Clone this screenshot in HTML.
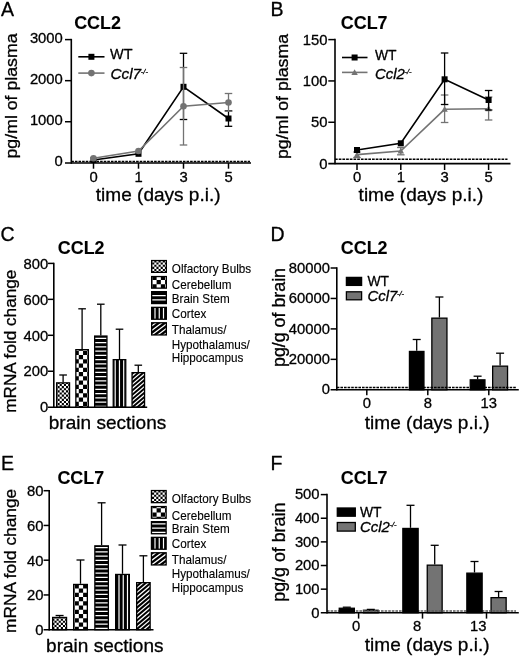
<!DOCTYPE html>
<html lang="en"><head><meta charset="utf-8"><title>Figure</title>
<style>
html,body{margin:0;padding:0;background:#fff;}
svg{display:block;}
svg text{font-family:"Liberation Sans", sans-serif;stroke:#000;stroke-width:0.3px;stroke-linejoin:round;}
svg text[font-weight=bold]{stroke-width:0.1px;}
</style></head><body>
<svg width="520" height="656" viewBox="0 0 520 656">
<rect width="520" height="656" fill="#fff"/>
<text x="1.0" y="15.8" font-size="19.5" text-anchor="start">A</text>
<text x="97.5" y="29.0" font-size="17.9" text-anchor="middle" font-weight="bold">CCL2</text>
<text transform="translate(17.2,96.0) rotate(-90)" font-size="16.5" text-anchor="middle" textLength="125" lengthAdjust="spacingAndGlyphs">pg/ml of plasma</text>
<line x1="71.3" y1="38.85" x2="71.3" y2="163.75" stroke="#000" stroke-width="1.6"/>
<line x1="65.0" y1="163.0" x2="251" y2="163.0" stroke="#000" stroke-width="1.6"/>
<line x1="71.3" y1="161.5" x2="250" y2="161.5" stroke="#000" stroke-width="1.6" stroke-dasharray="2.6 1.0"/>
<text x="62.8" y="165.70000000000002" font-size="14.8" text-anchor="end">0</text>
<line x1="65.0" y1="121.73333333333335" x2="71.3" y2="121.73333333333335" stroke="#000" stroke-width="1.5"/>
<text x="62.8" y="124.63333333333335" font-size="14.8" text-anchor="end">1000</text>
<line x1="65.0" y1="80.66666666666667" x2="71.3" y2="80.66666666666667" stroke="#000" stroke-width="1.5"/>
<text x="62.8" y="83.56666666666668" font-size="14.8" text-anchor="end">2000</text>
<line x1="65.0" y1="39.599999999999994" x2="71.3" y2="39.599999999999994" stroke="#000" stroke-width="1.5"/>
<text x="62.8" y="42.49999999999999" font-size="14.8" text-anchor="end">3000</text>
<line x1="93.5" y1="163.0" x2="93.5" y2="168.7" stroke="#000" stroke-width="1.5"/>
<text x="93.5" y="182.0" font-size="14.8" text-anchor="middle">0</text>
<line x1="138.5" y1="163.0" x2="138.5" y2="168.7" stroke="#000" stroke-width="1.5"/>
<text x="138.5" y="182.0" font-size="14.8" text-anchor="middle">1</text>
<line x1="183.5" y1="163.0" x2="183.5" y2="168.7" stroke="#000" stroke-width="1.5"/>
<text x="183.5" y="182.0" font-size="14.8" text-anchor="middle">3</text>
<line x1="228.5" y1="163.0" x2="228.5" y2="168.7" stroke="#000" stroke-width="1.5"/>
<text x="228.5" y="182.0" font-size="14.8" text-anchor="middle">5</text>
<text x="158.2" y="201.2" font-size="19" text-anchor="middle" textLength="124.8" lengthAdjust="spacingAndGlyphs">time (days p.i.)</text>
<line x1="183.5" y1="53.3" x2="183.5" y2="119.5" stroke="#000" stroke-width="1.3"/>
<line x1="179.75" y1="53.3" x2="187.25" y2="53.3" stroke="#000" stroke-width="1.3"/>
<line x1="179.75" y1="119.5" x2="187.25" y2="119.5" stroke="#000" stroke-width="1.3"/>
<line x1="228.5" y1="110.8" x2="228.5" y2="126.3" stroke="#000" stroke-width="1.3"/>
<line x1="224.75" y1="110.8" x2="232.25" y2="110.8" stroke="#000" stroke-width="1.3"/>
<line x1="224.75" y1="126.3" x2="232.25" y2="126.3" stroke="#000" stroke-width="1.3"/>
<polyline fill="none" stroke="#000" stroke-width="1.6" points="93.5,160.0 138.5,153.8 183.5,86.8 228.5,118.5"/>
<rect x="90.50" y="157.00" width="6.00" height="6.00" fill="#000"/>
<rect x="135.50" y="150.80" width="6.00" height="6.00" fill="#000"/>
<rect x="180.50" y="83.80" width="6.00" height="6.00" fill="#000"/>
<rect x="225.50" y="115.50" width="6.00" height="6.00" fill="#000"/>
<line x1="183.5" y1="67.5" x2="183.5" y2="145.0" stroke="#737373" stroke-width="1.3"/>
<line x1="179.75" y1="67.5" x2="187.25" y2="67.5" stroke="#737373" stroke-width="1.3"/>
<line x1="179.75" y1="145.0" x2="187.25" y2="145.0" stroke="#737373" stroke-width="1.3"/>
<line x1="228.5" y1="93.5" x2="228.5" y2="111.2" stroke="#737373" stroke-width="1.3"/>
<line x1="224.75" y1="93.5" x2="232.25" y2="93.5" stroke="#737373" stroke-width="1.3"/>
<line x1="224.75" y1="111.2" x2="232.25" y2="111.2" stroke="#737373" stroke-width="1.3"/>
<polyline fill="none" stroke="#737373" stroke-width="1.6" points="93.5,158.2 138.5,151.0 183.5,106.3 228.5,102.5"/>
<circle cx="93.5" cy="158.2" r="3.3" fill="#737373"/>
<circle cx="138.5" cy="151.0" r="3.3" fill="#737373"/>
<circle cx="183.5" cy="106.3" r="3.3" fill="#737373"/>
<circle cx="228.5" cy="102.5" r="3.3" fill="#737373"/>
<line x1="78.3" y1="56.8" x2="104.5" y2="56.8" stroke="#000" stroke-width="1.6"/>
<rect x="88.40" y="53.80" width="6.00" height="6.00" fill="#000"/>
<text x="110" y="58.9" font-size="15" text-anchor="start" textLength="22.5" lengthAdjust="spacingAndGlyphs">WT</text>
<line x1="78.3" y1="73.1" x2="104.5" y2="73.1" stroke="#737373" stroke-width="1.6"/>
<circle cx="91.4" cy="73.1" r="3.3" fill="#737373"/>
<text x="110.5" y="78.5" font-size="15.3" font-style="italic">Ccl7<tspan font-size="7.6" dx="-0.3" dy="-5.0">-/-</tspan></text>
<text x="270.5" y="15.8" font-size="19.5" text-anchor="start">B</text>
<text x="364.2" y="29.0" font-size="17.9" text-anchor="middle" font-weight="bold">CCL7</text>
<text transform="translate(287.5,96.5) rotate(-90)" font-size="16.5" text-anchor="middle" textLength="125" lengthAdjust="spacingAndGlyphs">pg/ml of plasma</text>
<line x1="335.0" y1="38.85" x2="335.0" y2="164.35" stroke="#000" stroke-width="1.6"/>
<line x1="328.3" y1="163.6" x2="510.5" y2="163.6" stroke="#000" stroke-width="1.6"/>
<line x1="335.0" y1="159.2" x2="507.5" y2="159.2" stroke="#000" stroke-width="1.5" stroke-dasharray="2.7 1.0"/>
<text x="327.5" y="168.79999999999998" font-size="14.8" text-anchor="end">0</text>
<line x1="328.3" y1="122.26666666666665" x2="335.0" y2="122.26666666666665" stroke="#000" stroke-width="1.5"/>
<text x="327.5" y="127.46666666666665" font-size="14.8" text-anchor="end">50</text>
<line x1="328.3" y1="80.93333333333332" x2="335.0" y2="80.93333333333332" stroke="#000" stroke-width="1.5"/>
<text x="327.5" y="86.13333333333333" font-size="14.8" text-anchor="end">100</text>
<line x1="328.3" y1="39.599999999999994" x2="335.0" y2="39.599999999999994" stroke="#000" stroke-width="1.5"/>
<text x="327.5" y="44.8" font-size="14.8" text-anchor="end">150</text>
<line x1="357.0" y1="163.6" x2="357.0" y2="170.0" stroke="#000" stroke-width="1.5"/>
<text x="357.0" y="182.0" font-size="14.8" text-anchor="middle">0</text>
<line x1="400.8" y1="163.6" x2="400.8" y2="170.0" stroke="#000" stroke-width="1.5"/>
<text x="400.8" y="182.0" font-size="14.8" text-anchor="middle">1</text>
<line x1="444.6" y1="163.6" x2="444.6" y2="170.0" stroke="#000" stroke-width="1.5"/>
<text x="444.6" y="182.0" font-size="14.8" text-anchor="middle">3</text>
<line x1="488.6" y1="163.6" x2="488.6" y2="170.0" stroke="#000" stroke-width="1.5"/>
<text x="488.6" y="182.0" font-size="14.8" text-anchor="middle">5</text>
<text x="421.0" y="201.2" font-size="19" text-anchor="middle" textLength="124.8" lengthAdjust="spacingAndGlyphs">time (days p.i.)</text>
<line x1="357.0" y1="152.0" x2="357.0" y2="157.5" stroke="#737373" stroke-width="1.3"/>
<line x1="353.25" y1="152.0" x2="360.75" y2="152.0" stroke="#737373" stroke-width="1.3"/>
<line x1="353.25" y1="157.5" x2="360.75" y2="157.5" stroke="#737373" stroke-width="1.3"/>
<line x1="400.8" y1="147.5" x2="400.8" y2="154.8" stroke="#737373" stroke-width="1.3"/>
<line x1="397.05" y1="147.5" x2="404.55" y2="147.5" stroke="#737373" stroke-width="1.3"/>
<line x1="397.05" y1="154.8" x2="404.55" y2="154.8" stroke="#737373" stroke-width="1.3"/>
<line x1="444.6" y1="95.0" x2="444.6" y2="122.5" stroke="#737373" stroke-width="1.3"/>
<line x1="440.85" y1="95.0" x2="448.35" y2="95.0" stroke="#737373" stroke-width="1.3"/>
<line x1="440.85" y1="122.5" x2="448.35" y2="122.5" stroke="#737373" stroke-width="1.3"/>
<line x1="488.6" y1="97.0" x2="488.6" y2="120.0" stroke="#737373" stroke-width="1.3"/>
<line x1="484.85" y1="97.0" x2="492.35" y2="97.0" stroke="#737373" stroke-width="1.3"/>
<line x1="484.85" y1="120.0" x2="492.35" y2="120.0" stroke="#737373" stroke-width="1.3"/>
<polyline fill="none" stroke="#737373" stroke-width="1.6" points="357.0,154.6 400.8,151.0 444.6,109.3 488.6,108.8"/>
<polygon points="357.0,151.4 360.2,157.16 353.8,157.16" fill="#737373"/>
<polygon points="400.8,147.8 404.0,153.56 397.6,153.56" fill="#737373"/>
<polygon points="444.6,106.1 447.8,111.86 441.40000000000003,111.86" fill="#737373"/>
<polygon points="488.6,105.6 491.8,111.36 485.40000000000003,111.36" fill="#737373"/>
<line x1="444.6" y1="53.0" x2="444.6" y2="104.5" stroke="#000" stroke-width="1.3"/>
<line x1="440.85" y1="53.0" x2="448.35" y2="53.0" stroke="#000" stroke-width="1.3"/>
<line x1="440.85" y1="104.5" x2="448.35" y2="104.5" stroke="#000" stroke-width="1.3"/>
<line x1="488.6" y1="90.5" x2="488.6" y2="110.0" stroke="#000" stroke-width="1.3"/>
<line x1="484.85" y1="90.5" x2="492.35" y2="90.5" stroke="#000" stroke-width="1.3"/>
<line x1="484.85" y1="110.0" x2="492.35" y2="110.0" stroke="#000" stroke-width="1.3"/>
<polyline fill="none" stroke="#000" stroke-width="1.6" points="357.0,150.0 400.8,143.3 444.6,79.3 488.6,100.0"/>
<rect x="354.00" y="147.00" width="6.00" height="6.00" fill="#000"/>
<rect x="397.80" y="140.30" width="6.00" height="6.00" fill="#000"/>
<rect x="441.60" y="76.30" width="6.00" height="6.00" fill="#000"/>
<rect x="485.60" y="97.00" width="6.00" height="6.00" fill="#000"/>
<line x1="342" y1="57.5" x2="367.5" y2="57.5" stroke="#000" stroke-width="1.6"/>
<rect x="351.60" y="54.50" width="6.00" height="6.00" fill="#000"/>
<text x="375" y="59.6" font-size="14.6" text-anchor="start" textLength="21.6" lengthAdjust="spacingAndGlyphs">WT</text>
<line x1="342" y1="72.4" x2="367.5" y2="72.4" stroke="#737373" stroke-width="1.6"/>
<polygon points="354.6,69.2 357.8,74.96000000000001 351.40000000000003,74.96000000000001" fill="#737373"/>
<text x="375" y="78.5" font-size="14.9" font-style="italic">Ccl2<tspan font-size="7.6" dx="-0.3" dy="-5.0">-/-</tspan></text>
<text x="0.5" y="240.5" font-size="19.5" text-anchor="start">C</text>
<text x="81.2" y="254.2" font-size="17.9" text-anchor="middle" font-weight="bold">CCL2</text>
<text transform="translate(15.8,341.2) rotate(-90)" font-size="16.5" text-anchor="middle" textLength="143" lengthAdjust="spacingAndGlyphs">mRNA fold change</text>
<text x="48.3" y="412.4" font-size="14.8" text-anchor="end">0</text>
<line x1="48.0" y1="371.25" x2="53.8" y2="371.25" stroke="#000" stroke-width="1.5"/>
<text x="48.3" y="376.45" font-size="14.8" text-anchor="end">200</text>
<line x1="48.0" y1="335.29999999999995" x2="53.8" y2="335.29999999999995" stroke="#000" stroke-width="1.5"/>
<text x="48.3" y="340.49999999999994" font-size="14.8" text-anchor="end">400</text>
<line x1="48.0" y1="299.35" x2="53.8" y2="299.35" stroke="#000" stroke-width="1.5"/>
<text x="48.3" y="304.55" font-size="14.8" text-anchor="end">600</text>
<line x1="48.0" y1="263.4" x2="53.8" y2="263.4" stroke="#000" stroke-width="1.5"/>
<text x="48.3" y="268.59999999999997" font-size="14.8" text-anchor="end">800</text>
<line x1="63.1" y1="375.0" x2="63.1" y2="382.2" stroke="#000" stroke-width="1.3"/>
<line x1="59.300000000000004" y1="375.0" x2="66.9" y2="375.0" stroke="#000" stroke-width="1.3"/>
<clipPath id="pc1"><rect x="56.65" y="382.85" width="12.90" height="24.40"/></clipPath>
<g clip-path="url(#pc1)"><rect x="56.65" y="382.85" width="12.90" height="24.40" fill="#000"/><path d="M53.29 379.69h2.125v2.125h-2.125zM53.29 383.94h2.125v2.125h-2.125zM53.29 388.19h2.125v2.125h-2.125zM53.29 392.44h2.125v2.125h-2.125zM53.29 396.69h2.125v2.125h-2.125zM53.29 400.94h2.125v2.125h-2.125zM53.29 405.19h2.125v2.125h-2.125zM53.29 409.44h2.125v2.125h-2.125zM55.41 381.81h2.125v2.125h-2.125zM55.41 386.06h2.125v2.125h-2.125zM55.41 390.31h2.125v2.125h-2.125zM55.41 394.56h2.125v2.125h-2.125zM55.41 398.81h2.125v2.125h-2.125zM55.41 403.06h2.125v2.125h-2.125zM55.41 407.31h2.125v2.125h-2.125zM57.54 379.69h2.125v2.125h-2.125zM57.54 383.94h2.125v2.125h-2.125zM57.54 388.19h2.125v2.125h-2.125zM57.54 392.44h2.125v2.125h-2.125zM57.54 396.69h2.125v2.125h-2.125zM57.54 400.94h2.125v2.125h-2.125zM57.54 405.19h2.125v2.125h-2.125zM57.54 409.44h2.125v2.125h-2.125zM59.66 381.81h2.125v2.125h-2.125zM59.66 386.06h2.125v2.125h-2.125zM59.66 390.31h2.125v2.125h-2.125zM59.66 394.56h2.125v2.125h-2.125zM59.66 398.81h2.125v2.125h-2.125zM59.66 403.06h2.125v2.125h-2.125zM59.66 407.31h2.125v2.125h-2.125zM61.79 379.69h2.125v2.125h-2.125zM61.79 383.94h2.125v2.125h-2.125zM61.79 388.19h2.125v2.125h-2.125zM61.79 392.44h2.125v2.125h-2.125zM61.79 396.69h2.125v2.125h-2.125zM61.79 400.94h2.125v2.125h-2.125zM61.79 405.19h2.125v2.125h-2.125zM61.79 409.44h2.125v2.125h-2.125zM63.91 381.81h2.125v2.125h-2.125zM63.91 386.06h2.125v2.125h-2.125zM63.91 390.31h2.125v2.125h-2.125zM63.91 394.56h2.125v2.125h-2.125zM63.91 398.81h2.125v2.125h-2.125zM63.91 403.06h2.125v2.125h-2.125zM63.91 407.31h2.125v2.125h-2.125zM66.04 379.69h2.125v2.125h-2.125zM66.04 383.94h2.125v2.125h-2.125zM66.04 388.19h2.125v2.125h-2.125zM66.04 392.44h2.125v2.125h-2.125zM66.04 396.69h2.125v2.125h-2.125zM66.04 400.94h2.125v2.125h-2.125zM66.04 405.19h2.125v2.125h-2.125zM66.04 409.44h2.125v2.125h-2.125zM68.16 381.81h2.125v2.125h-2.125zM68.16 386.06h2.125v2.125h-2.125zM68.16 390.31h2.125v2.125h-2.125zM68.16 394.56h2.125v2.125h-2.125zM68.16 398.81h2.125v2.125h-2.125zM68.16 403.06h2.125v2.125h-2.125zM68.16 407.31h2.125v2.125h-2.125zM70.29 379.69h2.125v2.125h-2.125zM70.29 383.94h2.125v2.125h-2.125zM70.29 388.19h2.125v2.125h-2.125zM70.29 392.44h2.125v2.125h-2.125zM70.29 396.69h2.125v2.125h-2.125zM70.29 400.94h2.125v2.125h-2.125zM70.29 405.19h2.125v2.125h-2.125zM70.29 409.44h2.125v2.125h-2.125zM72.41 381.81h2.125v2.125h-2.125zM72.41 386.06h2.125v2.125h-2.125zM72.41 390.31h2.125v2.125h-2.125zM72.41 394.56h2.125v2.125h-2.125zM72.41 398.81h2.125v2.125h-2.125zM72.41 403.06h2.125v2.125h-2.125zM72.41 407.31h2.125v2.125h-2.125z" fill="#fff"/></g>
<rect x="56.65" y="382.85" width="12.90" height="24.40" fill="none" stroke="#000" stroke-width="1.3"/>
<line x1="82.1" y1="308.8" x2="82.1" y2="349.0" stroke="#000" stroke-width="1.3"/>
<line x1="78.3" y1="308.8" x2="85.89999999999999" y2="308.8" stroke="#000" stroke-width="1.3"/>
<clipPath id="pc2"><rect x="75.85" y="349.65" width="12.50" height="57.60"/></clipPath>
<g clip-path="url(#pc2)"><rect x="75.85" y="349.65" width="12.50" height="57.60" fill="#000"/><path d="M70.30 342.30h4.250v4.250h-4.250zM70.30 350.80h4.250v4.250h-4.250zM70.30 359.30h4.250v4.250h-4.250zM70.30 367.80h4.250v4.250h-4.250zM70.30 376.30h4.250v4.250h-4.250zM70.30 384.80h4.250v4.250h-4.250zM70.30 393.30h4.250v4.250h-4.250zM70.30 401.80h4.250v4.250h-4.250zM70.30 410.30h4.250v4.250h-4.250zM74.55 346.55h4.250v4.250h-4.250zM74.55 355.05h4.250v4.250h-4.250zM74.55 363.55h4.250v4.250h-4.250zM74.55 372.05h4.250v4.250h-4.250zM74.55 380.55h4.250v4.250h-4.250zM74.55 389.05h4.250v4.250h-4.250zM74.55 397.55h4.250v4.250h-4.250zM74.55 406.05h4.250v4.250h-4.250zM74.55 414.55h4.250v4.250h-4.250zM78.80 342.30h4.250v4.250h-4.250zM78.80 350.80h4.250v4.250h-4.250zM78.80 359.30h4.250v4.250h-4.250zM78.80 367.80h4.250v4.250h-4.250zM78.80 376.30h4.250v4.250h-4.250zM78.80 384.80h4.250v4.250h-4.250zM78.80 393.30h4.250v4.250h-4.250zM78.80 401.80h4.250v4.250h-4.250zM78.80 410.30h4.250v4.250h-4.250zM83.05 346.55h4.250v4.250h-4.250zM83.05 355.05h4.250v4.250h-4.250zM83.05 363.55h4.250v4.250h-4.250zM83.05 372.05h4.250v4.250h-4.250zM83.05 380.55h4.250v4.250h-4.250zM83.05 389.05h4.250v4.250h-4.250zM83.05 397.55h4.250v4.250h-4.250zM83.05 406.05h4.250v4.250h-4.250zM83.05 414.55h4.250v4.250h-4.250zM87.30 342.30h4.250v4.250h-4.250zM87.30 350.80h4.250v4.250h-4.250zM87.30 359.30h4.250v4.250h-4.250zM87.30 367.80h4.250v4.250h-4.250zM87.30 376.30h4.250v4.250h-4.250zM87.30 384.80h4.250v4.250h-4.250zM87.30 393.30h4.250v4.250h-4.250zM87.30 401.80h4.250v4.250h-4.250zM87.30 410.30h4.250v4.250h-4.250zM91.55 346.55h4.250v4.250h-4.250zM91.55 355.05h4.250v4.250h-4.250zM91.55 363.55h4.250v4.250h-4.250zM91.55 372.05h4.250v4.250h-4.250zM91.55 380.55h4.250v4.250h-4.250zM91.55 389.05h4.250v4.250h-4.250zM91.55 397.55h4.250v4.250h-4.250zM91.55 406.05h4.250v4.250h-4.250zM91.55 414.55h4.250v4.250h-4.250zM95.80 342.30h4.250v4.250h-4.250zM95.80 350.80h4.250v4.250h-4.250zM95.80 359.30h4.250v4.250h-4.250zM95.80 367.80h4.250v4.250h-4.250zM95.80 376.30h4.250v4.250h-4.250zM95.80 384.80h4.250v4.250h-4.250zM95.80 393.30h4.250v4.250h-4.250zM95.80 401.80h4.250v4.250h-4.250zM95.80 410.30h4.250v4.250h-4.250z" fill="#fff"/></g>
<rect x="75.85" y="349.65" width="12.50" height="57.60" fill="none" stroke="#000" stroke-width="1.3"/>
<line x1="100.8" y1="304.2" x2="100.8" y2="335.4" stroke="#000" stroke-width="1.3"/>
<line x1="97.0" y1="304.2" x2="104.6" y2="304.2" stroke="#000" stroke-width="1.3"/>
<clipPath id="pc3"><rect x="94.65" y="336.05" width="12.30" height="71.20"/></clipPath>
<g clip-path="url(#pc3)"><rect x="94.65" y="336.05" width="12.30" height="71.20" fill="#000"/><path d="M93.65 334.05H107.95M93.65 338.30H107.95M93.65 342.55H107.95M93.65 346.80H107.95M93.65 351.05H107.95M93.65 355.30H107.95M93.65 359.55H107.95M93.65 363.80H107.95M93.65 368.05H107.95M93.65 372.30H107.95M93.65 376.55H107.95M93.65 380.80H107.95M93.65 385.05H107.95M93.65 389.30H107.95M93.65 393.55H107.95M93.65 397.80H107.95M93.65 402.05H107.95M93.65 406.30H107.95" stroke="#fff" stroke-width="1.25" fill="none"/></g>
<rect x="94.65" y="336.05" width="12.30" height="71.20" fill="none" stroke="#000" stroke-width="1.3"/>
<line x1="119.5" y1="329.2" x2="119.5" y2="359.0" stroke="#000" stroke-width="1.3"/>
<line x1="115.7" y1="329.2" x2="123.3" y2="329.2" stroke="#000" stroke-width="1.3"/>
<clipPath id="pc4"><rect x="113.25" y="359.65" width="12.50" height="47.60"/></clipPath>
<g clip-path="url(#pc4)"><rect x="113.25" y="359.65" width="12.50" height="47.60" fill="#000"/><path d="M110.95 358.65V408.25M115.20 358.65V408.25M119.45 358.65V408.25M123.70 358.65V408.25" stroke="#fff" stroke-width="1.2" fill="none"/></g>
<rect x="113.25" y="359.65" width="12.50" height="47.60" fill="none" stroke="#000" stroke-width="1.3"/>
<line x1="138.3" y1="365.2" x2="138.3" y2="372.0" stroke="#000" stroke-width="1.3"/>
<line x1="134.5" y1="365.2" x2="142.10000000000002" y2="365.2" stroke="#000" stroke-width="1.3"/>
<clipPath id="pc5"><rect x="132.05" y="372.65" width="12.50" height="34.60"/></clipPath>
<g clip-path="url(#pc5)"><rect x="132.05" y="372.65" width="12.50" height="34.60" fill="#000"/><path d="M130.40 369.06L146.20 355.52M130.40 373.26L146.20 359.72M130.40 377.46L146.20 363.92M130.40 381.66L146.20 368.12M130.40 385.86L146.20 372.32M130.40 390.06L146.20 376.52M130.40 394.26L146.20 380.72M130.40 398.46L146.20 384.92M130.40 402.66L146.20 389.12M130.40 406.86L146.20 393.32M130.40 411.06L146.20 397.52M130.40 415.26L146.20 401.72M130.40 419.46L146.20 405.92M130.40 423.66L146.20 410.12" stroke="#fff" stroke-width="1.25" fill="none"/></g>
<rect x="132.05" y="372.65" width="12.50" height="34.60" fill="none" stroke="#000" stroke-width="1.3"/>
<line x1="53.8" y1="262.65" x2="53.8" y2="407.95" stroke="#000" stroke-width="1.6"/>
<line x1="48.0" y1="407.2" x2="147.2" y2="407.2" stroke="#000" stroke-width="1.6"/>
<text x="107.5" y="429.3" font-size="19" text-anchor="middle" textLength="117.5" lengthAdjust="spacingAndGlyphs">brain sections</text>
<clipPath id="pc6"><rect x="151.65" y="260.55" width="14.70" height="11.80"/></clipPath>
<g clip-path="url(#pc6)"><rect x="151.65" y="260.55" width="14.70" height="11.80" fill="#000"/><path d="M147.93 260.38h2.125v2.125h-2.125zM147.93 264.62h2.125v2.125h-2.125zM147.93 268.88h2.125v2.125h-2.125zM147.93 273.12h2.125v2.125h-2.125zM150.05 258.25h2.125v2.125h-2.125zM150.05 262.50h2.125v2.125h-2.125zM150.05 266.75h2.125v2.125h-2.125zM150.05 271.00h2.125v2.125h-2.125zM150.05 275.25h2.125v2.125h-2.125zM152.18 260.38h2.125v2.125h-2.125zM152.18 264.62h2.125v2.125h-2.125zM152.18 268.88h2.125v2.125h-2.125zM152.18 273.12h2.125v2.125h-2.125zM154.30 258.25h2.125v2.125h-2.125zM154.30 262.50h2.125v2.125h-2.125zM154.30 266.75h2.125v2.125h-2.125zM154.30 271.00h2.125v2.125h-2.125zM154.30 275.25h2.125v2.125h-2.125zM156.43 260.38h2.125v2.125h-2.125zM156.43 264.62h2.125v2.125h-2.125zM156.43 268.88h2.125v2.125h-2.125zM156.43 273.12h2.125v2.125h-2.125zM158.55 258.25h2.125v2.125h-2.125zM158.55 262.50h2.125v2.125h-2.125zM158.55 266.75h2.125v2.125h-2.125zM158.55 271.00h2.125v2.125h-2.125zM158.55 275.25h2.125v2.125h-2.125zM160.68 260.38h2.125v2.125h-2.125zM160.68 264.62h2.125v2.125h-2.125zM160.68 268.88h2.125v2.125h-2.125zM160.68 273.12h2.125v2.125h-2.125zM162.80 258.25h2.125v2.125h-2.125zM162.80 262.50h2.125v2.125h-2.125zM162.80 266.75h2.125v2.125h-2.125zM162.80 271.00h2.125v2.125h-2.125zM162.80 275.25h2.125v2.125h-2.125zM164.93 260.38h2.125v2.125h-2.125zM164.93 264.62h2.125v2.125h-2.125zM164.93 268.88h2.125v2.125h-2.125zM164.93 273.12h2.125v2.125h-2.125zM167.05 258.25h2.125v2.125h-2.125zM167.05 262.50h2.125v2.125h-2.125zM167.05 266.75h2.125v2.125h-2.125zM167.05 271.00h2.125v2.125h-2.125zM167.05 275.25h2.125v2.125h-2.125zM169.18 260.38h2.125v2.125h-2.125zM169.18 264.62h2.125v2.125h-2.125zM169.18 268.88h2.125v2.125h-2.125zM169.18 273.12h2.125v2.125h-2.125z" fill="#fff"/></g>
<rect x="151.65" y="260.55" width="14.70" height="11.80" fill="none" stroke="#000" stroke-width="1.3"/>
<clipPath id="pc7"><rect x="151.65" y="276.55" width="14.70" height="11.60"/></clipPath>
<g clip-path="url(#pc7)"><rect x="151.65" y="276.55" width="14.70" height="11.60" fill="#000"/><path d="M143.85 271.55h4.250v4.250h-4.250zM143.85 280.05h4.250v4.250h-4.250zM143.85 288.55h4.250v4.250h-4.250zM148.10 275.80h4.250v4.250h-4.250zM148.10 284.30h4.250v4.250h-4.250zM148.10 292.80h4.250v4.250h-4.250zM152.35 271.55h4.250v4.250h-4.250zM152.35 280.05h4.250v4.250h-4.250zM152.35 288.55h4.250v4.250h-4.250zM156.60 275.80h4.250v4.250h-4.250zM156.60 284.30h4.250v4.250h-4.250zM156.60 292.80h4.250v4.250h-4.250zM160.85 271.55h4.250v4.250h-4.250zM160.85 280.05h4.250v4.250h-4.250zM160.85 288.55h4.250v4.250h-4.250zM165.10 275.80h4.250v4.250h-4.250zM165.10 284.30h4.250v4.250h-4.250zM165.10 292.80h4.250v4.250h-4.250zM169.35 271.55h4.250v4.250h-4.250zM169.35 280.05h4.250v4.250h-4.250zM169.35 288.55h4.250v4.250h-4.250zM173.60 275.80h4.250v4.250h-4.250zM173.60 284.30h4.250v4.250h-4.250zM173.60 292.80h4.250v4.250h-4.250z" fill="#fff"/></g>
<rect x="151.65" y="276.55" width="14.70" height="11.60" fill="none" stroke="#000" stroke-width="1.3"/>
<clipPath id="pc8"><rect x="151.65" y="291.65" width="14.70" height="11.90"/></clipPath>
<g clip-path="url(#pc8)"><rect x="151.65" y="291.65" width="14.70" height="11.90" fill="#000"/><path d="M150.65 291.35H167.35M150.65 295.60H167.35M150.65 299.85H167.35M150.65 304.10H167.35" stroke="#fff" stroke-width="1.25" fill="none"/></g>
<rect x="151.65" y="291.65" width="14.70" height="11.90" fill="none" stroke="#000" stroke-width="1.3"/>
<clipPath id="pc9"><rect x="151.65" y="307.35" width="14.70" height="11.90"/></clipPath>
<g clip-path="url(#pc9)"><rect x="151.65" y="307.35" width="14.70" height="11.90" fill="#000"/><path d="M150.75 306.35V320.25M155.00 306.35V320.25M159.25 306.35V320.25M163.50 306.35V320.25M167.75 306.35V320.25" stroke="#fff" stroke-width="1.2" fill="none"/></g>
<rect x="151.65" y="307.35" width="14.70" height="11.90" fill="none" stroke="#000" stroke-width="1.3"/>
<clipPath id="pc10"><rect x="151.65" y="322.75" width="14.70" height="12.20"/></clipPath>
<g clip-path="url(#pc10)"><rect x="151.65" y="322.75" width="14.70" height="12.20" fill="#000"/><path d="M150.00 318.25L168.00 304.75M150.00 322.75L168.00 309.25M150.00 327.25L168.00 313.75M150.00 331.75L168.00 318.25M150.00 336.25L168.00 322.75M150.00 340.75L168.00 327.25M150.00 345.25L168.00 331.75M150.00 349.75L168.00 336.25" stroke="#fff" stroke-width="1.25" fill="none"/></g>
<rect x="151.65" y="322.75" width="14.70" height="12.20" fill="none" stroke="#000" stroke-width="1.3"/>
<text x="171.8" y="272.5" font-size="12.2" text-anchor="start" textLength="79.3" lengthAdjust="spacingAndGlyphs" style="stroke-width:0.12px">Olfactory Bulbs</text>
<text x="171.8" y="289.3" font-size="12.2" text-anchor="start" textLength="59.8" lengthAdjust="spacingAndGlyphs" style="stroke-width:0.12px">Cerebellum</text>
<text x="171.8" y="302.5" font-size="12.2" text-anchor="start" textLength="57.9" lengthAdjust="spacingAndGlyphs" style="stroke-width:0.12px">Brain Stem</text>
<text x="171.8" y="318.0" font-size="12.2" text-anchor="start" textLength="34.5" lengthAdjust="spacingAndGlyphs" style="stroke-width:0.12px">Cortex</text>
<text x="171.8" y="334.3" font-size="12.2" text-anchor="start" textLength="54.6" lengthAdjust="spacingAndGlyphs" style="stroke-width:0.12px">Thalamus/</text>
<text x="171.8" y="348.6" font-size="12.2" text-anchor="start" textLength="78.0" lengthAdjust="spacingAndGlyphs" style="stroke-width:0.12px">Hypothalamus/</text>
<text x="171.8" y="362.3" font-size="12.2" text-anchor="start" textLength="71.5" lengthAdjust="spacingAndGlyphs" style="stroke-width:0.12px">Hippocampus</text>
<text x="1.0" y="469.6" font-size="19.5" text-anchor="start">E</text>
<text x="80.8" y="484.4" font-size="17.9" text-anchor="middle" font-weight="bold">CCL7</text>
<text transform="translate(16.0,560.9) rotate(-90)" font-size="16.5" text-anchor="middle" textLength="144" lengthAdjust="spacingAndGlyphs">mRNA fold change</text>
<text x="43.4" y="635.0" font-size="14.8" text-anchor="end">0</text>
<line x1="43.6" y1="594.95" x2="49.2" y2="594.95" stroke="#000" stroke-width="1.5"/>
<text x="43.4" y="600.25" font-size="14.8" text-anchor="end">20</text>
<line x1="43.6" y1="560.2" x2="49.2" y2="560.2" stroke="#000" stroke-width="1.5"/>
<text x="43.4" y="565.5" font-size="14.8" text-anchor="end">40</text>
<line x1="43.6" y1="525.45" x2="49.2" y2="525.45" stroke="#000" stroke-width="1.5"/>
<text x="43.4" y="530.75" font-size="14.8" text-anchor="end">60</text>
<line x1="43.6" y1="490.7" x2="49.2" y2="490.7" stroke="#000" stroke-width="1.5"/>
<text x="43.4" y="496.0" font-size="14.8" text-anchor="end">80</text>
<line x1="59.6" y1="615.5" x2="59.6" y2="616.8" stroke="#000" stroke-width="1.3"/>
<line x1="55.6" y1="615.5" x2="63.6" y2="615.5" stroke="#000" stroke-width="1.3"/>
<clipPath id="pc11"><rect x="52.65" y="617.45" width="13.90" height="12.30"/></clipPath>
<g clip-path="url(#pc11)"><rect x="52.65" y="617.45" width="13.90" height="12.30" fill="#000"/><path d="M50.20 614.35h2.125v2.125h-2.125zM50.20 618.60h2.125v2.125h-2.125zM50.20 622.85h2.125v2.125h-2.125zM50.20 627.10h2.125v2.125h-2.125zM50.20 631.35h2.125v2.125h-2.125zM52.33 616.48h2.125v2.125h-2.125zM52.33 620.73h2.125v2.125h-2.125zM52.33 624.98h2.125v2.125h-2.125zM52.33 629.23h2.125v2.125h-2.125zM52.33 633.48h2.125v2.125h-2.125zM54.45 614.35h2.125v2.125h-2.125zM54.45 618.60h2.125v2.125h-2.125zM54.45 622.85h2.125v2.125h-2.125zM54.45 627.10h2.125v2.125h-2.125zM54.45 631.35h2.125v2.125h-2.125zM56.58 616.48h2.125v2.125h-2.125zM56.58 620.73h2.125v2.125h-2.125zM56.58 624.98h2.125v2.125h-2.125zM56.58 629.23h2.125v2.125h-2.125zM56.58 633.48h2.125v2.125h-2.125zM58.70 614.35h2.125v2.125h-2.125zM58.70 618.60h2.125v2.125h-2.125zM58.70 622.85h2.125v2.125h-2.125zM58.70 627.10h2.125v2.125h-2.125zM58.70 631.35h2.125v2.125h-2.125zM60.83 616.48h2.125v2.125h-2.125zM60.83 620.73h2.125v2.125h-2.125zM60.83 624.98h2.125v2.125h-2.125zM60.83 629.23h2.125v2.125h-2.125zM60.83 633.48h2.125v2.125h-2.125zM62.95 614.35h2.125v2.125h-2.125zM62.95 618.60h2.125v2.125h-2.125zM62.95 622.85h2.125v2.125h-2.125zM62.95 627.10h2.125v2.125h-2.125zM62.95 631.35h2.125v2.125h-2.125zM65.08 616.48h2.125v2.125h-2.125zM65.08 620.73h2.125v2.125h-2.125zM65.08 624.98h2.125v2.125h-2.125zM65.08 629.23h2.125v2.125h-2.125zM65.08 633.48h2.125v2.125h-2.125zM67.20 614.35h2.125v2.125h-2.125zM67.20 618.60h2.125v2.125h-2.125zM67.20 622.85h2.125v2.125h-2.125zM67.20 627.10h2.125v2.125h-2.125zM67.20 631.35h2.125v2.125h-2.125zM69.33 616.48h2.125v2.125h-2.125zM69.33 620.73h2.125v2.125h-2.125zM69.33 624.98h2.125v2.125h-2.125zM69.33 629.23h2.125v2.125h-2.125zM69.33 633.48h2.125v2.125h-2.125z" fill="#fff"/></g>
<rect x="52.65" y="617.45" width="13.90" height="12.30" fill="none" stroke="#000" stroke-width="1.3"/>
<line x1="80.5" y1="560.0" x2="80.5" y2="583.8" stroke="#000" stroke-width="1.3"/>
<line x1="76.5" y1="560.0" x2="84.5" y2="560.0" stroke="#000" stroke-width="1.3"/>
<clipPath id="pc12"><rect x="73.65" y="584.45" width="13.70" height="45.30"/></clipPath>
<g clip-path="url(#pc12)"><rect x="73.65" y="584.45" width="13.70" height="45.30" fill="#000"/><path d="M66.10 580.05h4.250v4.250h-4.250zM66.10 588.55h4.250v4.250h-4.250zM66.10 597.05h4.250v4.250h-4.250zM66.10 605.55h4.250v4.250h-4.250zM66.10 614.05h4.250v4.250h-4.250zM66.10 622.55h4.250v4.250h-4.250zM66.10 631.05h4.250v4.250h-4.250zM70.35 584.30h4.250v4.250h-4.250zM70.35 592.80h4.250v4.250h-4.250zM70.35 601.30h4.250v4.250h-4.250zM70.35 609.80h4.250v4.250h-4.250zM70.35 618.30h4.250v4.250h-4.250zM70.35 626.80h4.250v4.250h-4.250zM70.35 635.30h4.250v4.250h-4.250zM74.60 580.05h4.250v4.250h-4.250zM74.60 588.55h4.250v4.250h-4.250zM74.60 597.05h4.250v4.250h-4.250zM74.60 605.55h4.250v4.250h-4.250zM74.60 614.05h4.250v4.250h-4.250zM74.60 622.55h4.250v4.250h-4.250zM74.60 631.05h4.250v4.250h-4.250zM78.85 584.30h4.250v4.250h-4.250zM78.85 592.80h4.250v4.250h-4.250zM78.85 601.30h4.250v4.250h-4.250zM78.85 609.80h4.250v4.250h-4.250zM78.85 618.30h4.250v4.250h-4.250zM78.85 626.80h4.250v4.250h-4.250zM78.85 635.30h4.250v4.250h-4.250zM83.10 580.05h4.250v4.250h-4.250zM83.10 588.55h4.250v4.250h-4.250zM83.10 597.05h4.250v4.250h-4.250zM83.10 605.55h4.250v4.250h-4.250zM83.10 614.05h4.250v4.250h-4.250zM83.10 622.55h4.250v4.250h-4.250zM83.10 631.05h4.250v4.250h-4.250zM87.35 584.30h4.250v4.250h-4.250zM87.35 592.80h4.250v4.250h-4.250zM87.35 601.30h4.250v4.250h-4.250zM87.35 609.80h4.250v4.250h-4.250zM87.35 618.30h4.250v4.250h-4.250zM87.35 626.80h4.250v4.250h-4.250zM87.35 635.30h4.250v4.250h-4.250zM91.60 580.05h4.250v4.250h-4.250zM91.60 588.55h4.250v4.250h-4.250zM91.60 597.05h4.250v4.250h-4.250zM91.60 605.55h4.250v4.250h-4.250zM91.60 614.05h4.250v4.250h-4.250zM91.60 622.55h4.250v4.250h-4.250zM91.60 631.05h4.250v4.250h-4.250zM95.85 584.30h4.250v4.250h-4.250zM95.85 592.80h4.250v4.250h-4.250zM95.85 601.30h4.250v4.250h-4.250zM95.85 609.80h4.250v4.250h-4.250zM95.85 618.30h4.250v4.250h-4.250zM95.85 626.80h4.250v4.250h-4.250zM95.85 635.30h4.250v4.250h-4.250z" fill="#fff"/></g>
<rect x="73.65" y="584.45" width="13.70" height="45.30" fill="none" stroke="#000" stroke-width="1.3"/>
<line x1="101.6" y1="502.8" x2="101.6" y2="545.2" stroke="#000" stroke-width="1.3"/>
<line x1="97.6" y1="502.8" x2="105.6" y2="502.8" stroke="#000" stroke-width="1.3"/>
<clipPath id="pc13"><rect x="94.85" y="545.85" width="13.50" height="83.90"/></clipPath>
<g clip-path="url(#pc13)"><rect x="94.85" y="545.85" width="13.50" height="83.90" fill="#000"/><path d="M93.85 543.25H109.35M93.85 547.50H109.35M93.85 551.75H109.35M93.85 556.00H109.35M93.85 560.25H109.35M93.85 564.50H109.35M93.85 568.75H109.35M93.85 573.00H109.35M93.85 577.25H109.35M93.85 581.50H109.35M93.85 585.75H109.35M93.85 590.00H109.35M93.85 594.25H109.35M93.85 598.50H109.35M93.85 602.75H109.35M93.85 607.00H109.35M93.85 611.25H109.35M93.85 615.50H109.35M93.85 619.75H109.35M93.85 624.00H109.35M93.85 628.25H109.35" stroke="#fff" stroke-width="1.25" fill="none"/></g>
<rect x="94.85" y="545.85" width="13.50" height="83.90" fill="none" stroke="#000" stroke-width="1.3"/>
<line x1="122.5" y1="545.0" x2="122.5" y2="573.8" stroke="#000" stroke-width="1.3"/>
<line x1="118.5" y1="545.0" x2="126.5" y2="545.0" stroke="#000" stroke-width="1.3"/>
<clipPath id="pc14"><rect x="115.65" y="574.45" width="13.70" height="55.30"/></clipPath>
<g clip-path="url(#pc14)"><rect x="115.65" y="574.45" width="13.70" height="55.30" fill="#000"/><path d="M114.75 573.45V630.75M119.00 573.45V630.75M123.25 573.45V630.75M127.50 573.45V630.75" stroke="#fff" stroke-width="1.2" fill="none"/></g>
<rect x="115.65" y="574.45" width="13.70" height="55.30" fill="none" stroke="#000" stroke-width="1.3"/>
<line x1="143.4" y1="555.8" x2="143.4" y2="582.0" stroke="#000" stroke-width="1.3"/>
<line x1="139.4" y1="555.8" x2="147.4" y2="555.8" stroke="#000" stroke-width="1.3"/>
<clipPath id="pc15"><rect x="136.65" y="582.65" width="13.50" height="47.10"/></clipPath>
<g clip-path="url(#pc15)"><rect x="136.65" y="582.65" width="13.50" height="47.10" fill="#000"/><path d="M135.00 576.95L151.80 562.67M135.00 581.25L151.80 566.97M135.00 585.55L151.80 571.27M135.00 589.85L151.80 575.57M135.00 594.15L151.80 579.87M135.00 598.45L151.80 584.17M135.00 602.75L151.80 588.47M135.00 607.05L151.80 592.77M135.00 611.35L151.80 597.07M135.00 615.65L151.80 601.37M135.00 619.95L151.80 605.67M135.00 624.25L151.80 609.97M135.00 628.55L151.80 614.27M135.00 632.85L151.80 618.57M135.00 637.15L151.80 622.87M135.00 641.45L151.80 627.17M135.00 645.75L151.80 631.47" stroke="#fff" stroke-width="1.25" fill="none"/></g>
<rect x="136.65" y="582.65" width="13.50" height="47.10" fill="none" stroke="#000" stroke-width="1.3"/>
<line x1="49.2" y1="489.95" x2="49.2" y2="630.45" stroke="#000" stroke-width="1.6"/>
<line x1="43.6" y1="629.7" x2="153.5" y2="629.7" stroke="#000" stroke-width="1.6"/>
<text x="104.8" y="652.0" font-size="19" text-anchor="middle" textLength="117.5" lengthAdjust="spacingAndGlyphs">brain sections</text>
<clipPath id="pc16"><rect x="151.45" y="490.55" width="14.70" height="12.10"/></clipPath>
<g clip-path="url(#pc16)"><rect x="151.45" y="490.55" width="14.70" height="12.10" fill="#000"/><path d="M147.72 490.48h2.125v2.125h-2.125zM147.72 494.73h2.125v2.125h-2.125zM147.72 498.98h2.125v2.125h-2.125zM147.72 503.23h2.125v2.125h-2.125zM149.85 488.35h2.125v2.125h-2.125zM149.85 492.60h2.125v2.125h-2.125zM149.85 496.85h2.125v2.125h-2.125zM149.85 501.10h2.125v2.125h-2.125zM149.85 505.35h2.125v2.125h-2.125zM151.97 490.48h2.125v2.125h-2.125zM151.97 494.73h2.125v2.125h-2.125zM151.97 498.98h2.125v2.125h-2.125zM151.97 503.23h2.125v2.125h-2.125zM154.10 488.35h2.125v2.125h-2.125zM154.10 492.60h2.125v2.125h-2.125zM154.10 496.85h2.125v2.125h-2.125zM154.10 501.10h2.125v2.125h-2.125zM154.10 505.35h2.125v2.125h-2.125zM156.22 490.48h2.125v2.125h-2.125zM156.22 494.73h2.125v2.125h-2.125zM156.22 498.98h2.125v2.125h-2.125zM156.22 503.23h2.125v2.125h-2.125zM158.35 488.35h2.125v2.125h-2.125zM158.35 492.60h2.125v2.125h-2.125zM158.35 496.85h2.125v2.125h-2.125zM158.35 501.10h2.125v2.125h-2.125zM158.35 505.35h2.125v2.125h-2.125zM160.47 490.48h2.125v2.125h-2.125zM160.47 494.73h2.125v2.125h-2.125zM160.47 498.98h2.125v2.125h-2.125zM160.47 503.23h2.125v2.125h-2.125zM162.60 488.35h2.125v2.125h-2.125zM162.60 492.60h2.125v2.125h-2.125zM162.60 496.85h2.125v2.125h-2.125zM162.60 501.10h2.125v2.125h-2.125zM162.60 505.35h2.125v2.125h-2.125zM164.72 490.48h2.125v2.125h-2.125zM164.72 494.73h2.125v2.125h-2.125zM164.72 498.98h2.125v2.125h-2.125zM164.72 503.23h2.125v2.125h-2.125zM166.85 488.35h2.125v2.125h-2.125zM166.85 492.60h2.125v2.125h-2.125zM166.85 496.85h2.125v2.125h-2.125zM166.85 501.10h2.125v2.125h-2.125zM166.85 505.35h2.125v2.125h-2.125zM168.97 490.48h2.125v2.125h-2.125zM168.97 494.73h2.125v2.125h-2.125zM168.97 498.98h2.125v2.125h-2.125zM168.97 503.23h2.125v2.125h-2.125z" fill="#fff"/></g>
<rect x="151.45" y="490.55" width="14.70" height="12.10" fill="none" stroke="#000" stroke-width="1.3"/>
<clipPath id="pc17"><rect x="151.45" y="506.55" width="14.70" height="11.70"/></clipPath>
<g clip-path="url(#pc17)"><rect x="151.45" y="506.55" width="14.70" height="11.70" fill="#000"/><path d="M143.85 499.80h4.250v4.250h-4.250zM143.85 508.30h4.250v4.250h-4.250zM143.85 516.80h4.250v4.250h-4.250zM143.85 525.30h4.250v4.250h-4.250zM148.10 504.05h4.250v4.250h-4.250zM148.10 512.55h4.250v4.250h-4.250zM148.10 521.05h4.250v4.250h-4.250zM152.35 499.80h4.250v4.250h-4.250zM152.35 508.30h4.250v4.250h-4.250zM152.35 516.80h4.250v4.250h-4.250zM152.35 525.30h4.250v4.250h-4.250zM156.60 504.05h4.250v4.250h-4.250zM156.60 512.55h4.250v4.250h-4.250zM156.60 521.05h4.250v4.250h-4.250zM160.85 499.80h4.250v4.250h-4.250zM160.85 508.30h4.250v4.250h-4.250zM160.85 516.80h4.250v4.250h-4.250zM160.85 525.30h4.250v4.250h-4.250zM165.10 504.05h4.250v4.250h-4.250zM165.10 512.55h4.250v4.250h-4.250zM165.10 521.05h4.250v4.250h-4.250zM169.35 499.80h4.250v4.250h-4.250zM169.35 508.30h4.250v4.250h-4.250zM169.35 516.80h4.250v4.250h-4.250zM169.35 525.30h4.250v4.250h-4.250zM173.60 504.05h4.250v4.250h-4.250zM173.60 512.55h4.250v4.250h-4.250zM173.60 521.05h4.250v4.250h-4.250z" fill="#fff"/></g>
<rect x="151.45" y="506.55" width="14.70" height="11.70" fill="none" stroke="#000" stroke-width="1.3"/>
<clipPath id="pc18"><rect x="151.45" y="521.65" width="14.70" height="12.10"/></clipPath>
<g clip-path="url(#pc18)"><rect x="151.45" y="521.65" width="14.70" height="12.10" fill="#000"/><path d="M150.45 519.65H167.15M150.45 523.90H167.15M150.45 528.15H167.15M150.45 532.40H167.15" stroke="#fff" stroke-width="1.25" fill="none"/></g>
<rect x="151.45" y="521.65" width="14.70" height="12.10" fill="none" stroke="#000" stroke-width="1.3"/>
<clipPath id="pc19"><rect x="151.45" y="537.35" width="14.70" height="11.90"/></clipPath>
<g clip-path="url(#pc19)"><rect x="151.45" y="537.35" width="14.70" height="11.90" fill="#000"/><path d="M150.75 536.35V550.25M155.00 536.35V550.25M159.25 536.35V550.25M163.50 536.35V550.25M167.75 536.35V550.25" stroke="#fff" stroke-width="1.2" fill="none"/></g>
<rect x="151.45" y="537.35" width="14.70" height="11.90" fill="none" stroke="#000" stroke-width="1.3"/>
<clipPath id="pc20"><rect x="151.45" y="552.75" width="14.70" height="12.20"/></clipPath>
<g clip-path="url(#pc20)"><rect x="151.45" y="552.75" width="14.70" height="12.20" fill="#000"/><path d="M149.80 548.25L167.80 534.75M149.80 552.75L167.80 539.25M149.80 557.25L167.80 543.75M149.80 561.75L167.80 548.25M149.80 566.25L167.80 552.75M149.80 570.75L167.80 557.25M149.80 575.25L167.80 561.75M149.80 579.75L167.80 566.25" stroke="#fff" stroke-width="1.25" fill="none"/></g>
<rect x="151.45" y="552.75" width="14.70" height="12.20" fill="none" stroke="#000" stroke-width="1.3"/>
<text x="171.8" y="502.5" font-size="12.2" text-anchor="start" textLength="79.3" lengthAdjust="spacingAndGlyphs" style="stroke-width:0.12px">Olfactory Bulbs</text>
<text x="171.8" y="519.8" font-size="12.2" text-anchor="start" textLength="59.8" lengthAdjust="spacingAndGlyphs" style="stroke-width:0.12px">Cerebellum</text>
<text x="171.8" y="532.5" font-size="12.2" text-anchor="start" textLength="57.9" lengthAdjust="spacingAndGlyphs" style="stroke-width:0.12px">Brain Stem</text>
<text x="171.8" y="547.5" font-size="12.2" text-anchor="start" textLength="34.5" lengthAdjust="spacingAndGlyphs" style="stroke-width:0.12px">Cortex</text>
<text x="171.8" y="563.8" font-size="12.2" text-anchor="start" textLength="54.6" lengthAdjust="spacingAndGlyphs" style="stroke-width:0.12px">Thalamus/</text>
<text x="171.8" y="578.1" font-size="12.2" text-anchor="start" textLength="78.0" lengthAdjust="spacingAndGlyphs" style="stroke-width:0.12px">Hypothalamus/</text>
<text x="171.8" y="591.6" font-size="12.2" text-anchor="start" textLength="71.5" lengthAdjust="spacingAndGlyphs" style="stroke-width:0.12px">Hippocampus</text>
<text x="270.5" y="240.5" font-size="19.5" text-anchor="start">D</text>
<text x="364.2" y="254.2" font-size="17.9" text-anchor="middle" font-weight="bold">CCL2</text>
<text transform="translate(284.6,317.5) rotate(-90)" font-size="17.8" text-anchor="middle" textLength="99" lengthAdjust="spacingAndGlyphs">pg/g of brain</text>
<line x1="336.8" y1="267.25" x2="336.8" y2="390.55" stroke="#000" stroke-width="1.6"/>
<line x1="330.6" y1="389.8" x2="518.8" y2="389.8" stroke="#000" stroke-width="1.6"/>
<text x="329.9" y="394.40000000000003" font-size="14.8" text-anchor="end">0</text>
<line x1="330.6" y1="359.35" x2="336.8" y2="359.35" stroke="#000" stroke-width="1.5"/>
<text x="329.9" y="363.95000000000005" font-size="14.8" text-anchor="end">20000</text>
<line x1="330.6" y1="328.90000000000003" x2="336.8" y2="328.90000000000003" stroke="#000" stroke-width="1.5"/>
<text x="329.9" y="333.50000000000006" font-size="14.8" text-anchor="end">40000</text>
<line x1="330.6" y1="298.45" x2="336.8" y2="298.45" stroke="#000" stroke-width="1.5"/>
<text x="329.9" y="303.05" font-size="14.8" text-anchor="end">60000</text>
<line x1="330.6" y1="268.0" x2="336.8" y2="268.0" stroke="#000" stroke-width="1.5"/>
<text x="329.9" y="272.6" font-size="14.8" text-anchor="end">80000</text>
<line x1="366.8" y1="389.8" x2="366.8" y2="395.2" stroke="#000" stroke-width="1.5"/>
<text x="366.8" y="408.0" font-size="14.8" text-anchor="middle">0</text>
<line x1="427.8" y1="389.8" x2="427.8" y2="395.2" stroke="#000" stroke-width="1.5"/>
<text x="427.8" y="408.0" font-size="14.8" text-anchor="middle">8</text>
<line x1="488.8" y1="389.8" x2="488.8" y2="395.2" stroke="#000" stroke-width="1.5"/>
<text x="488.8" y="408.0" font-size="14.8" text-anchor="middle">13</text>
<text x="427.2" y="429.3" font-size="19" text-anchor="middle" textLength="124.8" lengthAdjust="spacingAndGlyphs">time (days p.i.)</text>
<line x1="416.70000000000005" y1="339.5" x2="416.70000000000005" y2="350.8" stroke="#000" stroke-width="1.3"/>
<line x1="412.70000000000005" y1="339.5" x2="420.70000000000005" y2="339.5" stroke="#000" stroke-width="1.3"/>
<rect x="409.45" y="351.45" width="14.50" height="38.35" fill="#000" stroke="#000" stroke-width="1.3"/>
<line x1="439.4" y1="297.0" x2="439.4" y2="317.5" stroke="#000" stroke-width="1.3"/>
<line x1="435.4" y1="297.0" x2="443.4" y2="297.0" stroke="#000" stroke-width="1.3"/>
<rect x="431.85" y="318.15" width="15.10" height="71.65" fill="#737373" stroke="#000" stroke-width="1.3"/>
<line x1="477.6" y1="376.2" x2="477.6" y2="379.2" stroke="#000" stroke-width="1.3"/>
<line x1="473.6" y1="376.2" x2="481.6" y2="376.2" stroke="#000" stroke-width="1.3"/>
<rect x="470.25" y="379.85" width="14.70" height="9.95" fill="#000" stroke="#000" stroke-width="1.3"/>
<line x1="500.1" y1="353.2" x2="500.1" y2="365.5" stroke="#000" stroke-width="1.3"/>
<line x1="496.1" y1="353.2" x2="504.1" y2="353.2" stroke="#000" stroke-width="1.3"/>
<rect x="492.65" y="366.15" width="14.90" height="23.65" fill="#737373" stroke="#000" stroke-width="1.3"/>
<line x1="336.8" y1="387.5" x2="516.0" y2="387.5" stroke="#000" stroke-width="1.5" stroke-dasharray="2.6 1.0"/>
<rect x="346.4" y="277.4" width="15.2" height="8.0" fill="#000" stroke="#000" stroke-width="1.3"/>
<rect x="346.4" y="291.8" width="15.2" height="8.0" fill="#737373" stroke="#000" stroke-width="1.3"/>
<text x="367.5" y="285.8" font-size="14.6" text-anchor="start" textLength="21.6" lengthAdjust="spacingAndGlyphs">WT</text>
<text x="367.5" y="300.6" font-size="14.9" font-style="italic">Ccl7<tspan font-size="7.6" dx="-0.3" dy="-5.0">-/-</tspan></text>
<text x="270.5" y="469.6" font-size="19.5" text-anchor="start">F</text>
<text x="364.2" y="484.4" font-size="17.9" text-anchor="middle" font-weight="bold">CCL7</text>
<text transform="translate(284.6,552.2) rotate(-90)" font-size="17.8" text-anchor="middle" textLength="99" lengthAdjust="spacingAndGlyphs">pg/g of brain</text>
<text x="319.6" y="617.5999999999999" font-size="14.8" text-anchor="end">0</text>
<line x1="320.8" y1="589.16" x2="327.0" y2="589.16" stroke="#000" stroke-width="1.5"/>
<text x="319.6" y="593.9599999999999" font-size="14.8" text-anchor="end">100</text>
<line x1="320.8" y1="565.52" x2="327.0" y2="565.52" stroke="#000" stroke-width="1.5"/>
<text x="319.6" y="570.3199999999999" font-size="14.8" text-anchor="end">200</text>
<line x1="320.8" y1="541.88" x2="327.0" y2="541.88" stroke="#000" stroke-width="1.5"/>
<text x="319.6" y="546.68" font-size="14.8" text-anchor="end">300</text>
<line x1="320.8" y1="518.24" x2="327.0" y2="518.24" stroke="#000" stroke-width="1.5"/>
<text x="319.6" y="523.04" font-size="14.8" text-anchor="end">400</text>
<line x1="320.8" y1="494.6" x2="327.0" y2="494.6" stroke="#000" stroke-width="1.5"/>
<text x="319.6" y="499.40000000000003" font-size="14.8" text-anchor="end">500</text>
<line x1="358.6" y1="612.8" x2="358.6" y2="618.6" stroke="#000" stroke-width="1.5"/>
<text x="356.0" y="631.4" font-size="14.8" text-anchor="middle">0</text>
<line x1="422.5" y1="612.8" x2="422.5" y2="618.6" stroke="#000" stroke-width="1.5"/>
<text x="417.0" y="631.4" font-size="14.8" text-anchor="middle">8</text>
<line x1="486.5" y1="612.8" x2="486.5" y2="618.6" stroke="#000" stroke-width="1.5"/>
<text x="478.2" y="631.4" font-size="14.8" text-anchor="middle">13</text>
<text x="427.2" y="651.4" font-size="19" text-anchor="middle" textLength="124.8" lengthAdjust="spacingAndGlyphs">time (days p.i.)</text>
<line x1="370.8" y1="609.4" x2="370.8" y2="609.6" stroke="#000" stroke-width="1.3"/>
<line x1="366.8" y1="609.4" x2="374.8" y2="609.4" stroke="#000" stroke-width="1.3"/>
<rect x="363.45" y="610.25" width="14.70" height="2.55" fill="#737373" stroke="#000" stroke-width="1.3"/>
<line x1="434.70000000000005" y1="545.3" x2="434.70000000000005" y2="564.5" stroke="#000" stroke-width="1.3"/>
<line x1="430.70000000000005" y1="545.3" x2="438.70000000000005" y2="545.3" stroke="#000" stroke-width="1.3"/>
<rect x="427.25" y="565.15" width="14.90" height="47.65" fill="#737373" stroke="#000" stroke-width="1.3"/>
<line x1="498.6" y1="591.5" x2="498.6" y2="597.0" stroke="#000" stroke-width="1.3"/>
<line x1="494.6" y1="591.5" x2="502.6" y2="591.5" stroke="#000" stroke-width="1.3"/>
<rect x="491.05" y="597.65" width="15.10" height="15.15" fill="#737373" stroke="#000" stroke-width="1.3"/>
<line x1="327.0" y1="611.0" x2="516.0" y2="611.0" stroke="#5a5a5a" stroke-width="1.6" stroke-dasharray="2.6 1.0"/>
<line x1="346.8" y1="607.2" x2="346.8" y2="607.6" stroke="#000" stroke-width="1.3"/>
<line x1="342.8" y1="607.2" x2="350.8" y2="607.2" stroke="#000" stroke-width="1.3"/>
<rect x="339.25" y="608.25" width="15.10" height="4.55" fill="#000" stroke="#000" stroke-width="1.3"/>
<line x1="410.5" y1="505.3" x2="410.5" y2="527.8" stroke="#000" stroke-width="1.3"/>
<line x1="406.5" y1="505.3" x2="414.5" y2="505.3" stroke="#000" stroke-width="1.3"/>
<rect x="402.85" y="528.45" width="15.30" height="84.35" fill="#000" stroke="#000" stroke-width="1.3"/>
<line x1="474.5" y1="561.5" x2="474.5" y2="572.5" stroke="#000" stroke-width="1.3"/>
<line x1="470.5" y1="561.5" x2="478.5" y2="561.5" stroke="#000" stroke-width="1.3"/>
<rect x="466.85" y="573.15" width="15.30" height="39.65" fill="#000" stroke="#000" stroke-width="1.3"/>
<line x1="327.0" y1="493.85" x2="327.0" y2="613.55" stroke="#000" stroke-width="1.6"/>
<line x1="320.8" y1="612.8" x2="518.8" y2="612.8" stroke="#000" stroke-width="1.6"/>
<rect x="337.3" y="508.0" width="18.0" height="8.2" fill="#000" stroke="#000" stroke-width="1.3"/>
<rect x="337.3" y="522.5" width="18.0" height="8.6" fill="#737373" stroke="#000" stroke-width="1.3"/>
<text x="360.0" y="517.2" font-size="14.6" text-anchor="start" textLength="21.6" lengthAdjust="spacingAndGlyphs">WT</text>
<text x="360.0" y="532.0" font-size="14.9" font-style="italic">Ccl2<tspan font-size="7.6" dx="-0.3" dy="-5.0">-/-</tspan></text>
</svg>
</body></html>
